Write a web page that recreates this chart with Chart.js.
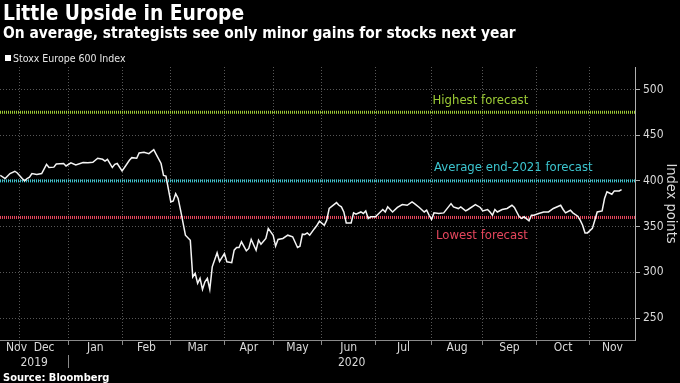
<!DOCTYPE html>
<html>
<head>
<meta charset="utf-8">
<script src="https://cdn.jsdelivr.net/npm/chart.js@4.4.1/dist/chart.umd.min.js"></script>
<style>
  html, body { margin: 0; padding: 0; background: #000; }
  body { width: 680px; height: 383px; position: relative; overflow: hidden;
         font-family: "DejaVu Sans Condensed", "DejaVu Sans", sans-serif; color: #fff; }
  canvas { position: absolute; left: 0; top: 0; }
  .txt { position: absolute; white-space: nowrap; line-height: 1; }
  #title { left: 3px; top: 3px; font-size: 20.8px; font-weight: bold; }
  #subtitle { left: 3px; top: 26px; font-size: 15.4px; font-weight: bold; }
  #legendBox { position: absolute; left: 5px; top: 55px; width: 6px; height: 6px; background: #fff; }
  #legend { left: 13px; top: 53px; font-size: 10.5px; color: #e6e6e6; }
  #source { left: 3px; top: 372px; font-size: 11px; font-weight: bold; }
</style>
</head>
<body>
<canvas id="chart" width="680" height="383"></canvas>
<div id="title" class="txt">Little Upside in Europe</div>
<div id="subtitle" class="txt">On average, strategists see only minor gains for stocks next year</div>
<div id="legendBox"></div>
<div id="legend" class="txt"></div>
<div id="source" class="txt">Source: Bloomberg</div>

<script>
// ---- data (x = trading day, 0 = first session of 2020) ----
const seriesName = 'Stoxx Europe 600 Index';
const days = [
  -28, -26, -24, -22, -21, -19, -18, -17, -16, -15, -13, -11, -9, -8, -6, -5, -2, -1,
  1, 3, 6, 8, 10, 12, 14, 15, 16, 18, 19, 20, 22, 23, 25, 26, 28, 29, 31, 33, 35, 36, 38, 39, 40,
  42, 43, 44, 45, 46, 48, 50, 51, 52, 53, 54, 55, 56, 57, 58, 59, 61, 62,
  64, 65, 67, 68, 69, 70, 71, 73, 74, 75, 77, 78, 79, 81, 82,
  84, 85, 86, 88, 90, 92, 94, 95, 96, 97, 98, 99, 101, 102, 103,
  105, 106, 107, 110, 111, 112, 113, 114, 116, 117, 118, 120, 121, 122, 123, 124,
  126, 129, 130, 131, 133, 135, 137, 139, 141, 142, 144, 146, 147, 148,
  149, 150, 152, 154, 157, 158, 160, 161, 163, 164, 167, 169,
  170, 172, 173, 174, 175, 176, 178, 180, 182, 183, 185, 186, 187, 189, 190, 191,
  193, 195, 197, 199, 202, 203, 204, 206, 207, 209, 210, 211, 212, 213,
  215, 216, 217, 219, 220, 221, 223, 224, 226, 227
];
const stoxx = [
  406.1, 402.5, 408, 410.5, 408.6, 402.5, 400, 402.5, 404, 408, 407, 408, 418, 414.6, 415, 418.5, 419, 416.3,
  419.7, 417.5, 420, 419.7, 420.3, 424.7, 423.6, 421.7, 423.6, 414.6, 418, 419, 410.8, 414.6, 422.5, 425.4, 424.7, 430.5, 431.2, 429.8, 434, 429, 419, 406, 405.3,
  377, 378, 386, 380.8, 368, 340.6, 335, 295, 299, 288, 293.4, 281.3, 289.7, 293.4, 281.3, 306, 321.3, 312,
  320.6, 311.5, 310.5, 324.2, 327.2, 327.2, 333.4, 323.6, 326.1, 336, 324.2, 335.2, 330.8, 337, 348,
  340.6, 328.6, 336, 337, 340.6, 338.9, 327.2, 328.6, 341.7, 341.4, 343.1, 340.6, 348, 351.5, 356,
  351.5, 357, 370, 376.2, 373.3, 371.6, 366, 354, 354, 365, 363.5, 366, 364.4, 367.2, 358.9, 360.7,
  360.7, 368.7, 366, 371.6, 366, 370.9, 374.1, 373.3, 377, 375.1, 370.9, 366, 367.9, 362.4,
  357.7, 365, 364.4, 365, 375.1, 371.6, 369.7, 371.6, 367.2, 368.7, 374.1, 370.9,
  367.2, 368.7, 366, 362.4, 368.7, 366, 368.7, 369.8, 373.3, 370.9, 360.7, 358.9, 360.7, 356.3, 362.4, 362.4,
  364.4, 366, 366, 369.8, 373.3, 368.7, 365, 367.9, 365, 361.4, 357, 351.5, 343.1, 343.1,
  348, 357, 366, 367.2, 380.7, 388, 385.4, 389, 389, 390.5
];

const forecastNames = ['Highest forecast', 'Average end-2021 forecast', 'Lowest forecast'];
const forecastValues = [475, 400, 360];

// month boundaries in trading days (Nov 2019 .. Dec 2020)
const monthNames = ['Nov', 'Dec', 'Jan', 'Feb', 'Mar', 'Apr', 'May', 'Jun', 'Jul', 'Aug', 'Sep', 'Oct', 'Nov'];
const monthStarts = [-41, -20, 0, 22, 42, 64, 84, 104, 126, 149, 170, 192, 214, 235];
const yearNames = ['2019', '2020'];
const yearBreak = 0;
const yTicks = [250, 300, 350, 400, 450, 500];

// ---- styling ----
const FONT = '"DejaVu Sans Condensed", "DejaVu Sans", sans-serif';
const forecastColors = ['#9dcc36', '#3cc5cf', '#e5465d'];
const labelNudge = [{dx: 1, dy: -12}, {dx: 2.5, dy: -13}, {dx: 4.5, dy: 18}];
const xMin = -28.1, xMax = 232.5;

document.getElementById('legend').textContent = seriesName;

const extraLabels = {
  id: 'extraLabels',
  afterDatasetsDraw(chart) {
    const {ctx, scales: {x, y}} = chart;
    ctx.save();
    ctx.font = '13px ' + FONT;
    ctx.textAlign = 'left';
    ctx.textBaseline = 'middle';
    const at = x.getPixelForValue(monthStarts[9]);
    forecastValues.forEach((v, i) => {
      ctx.fillStyle = forecastColors[i];
      ctx.fillText(forecastNames[i], at + labelNudge[i].dx, y.getPixelForValue(v) + labelNudge[i].dy);
    });
    ctx.restore();
  },
  afterDraw(chart) {
    const {ctx, chartArea: a, scales: {x}} = chart;
    ctx.save();
    ctx.font = '12px ' + FONT;
    ctx.fillStyle = '#dadada';
    ctx.textAlign = 'center';
    ctx.textBaseline = 'middle';
    for (let i = 0; i < monthNames.length; i++) {
      const from = Math.max(monthStarts[i], x.min), to = Math.min(monthStarts[i + 1], x.max);
      if (to <= from) continue;
      const w = ctx.measureText(monthNames[i]).width;
      let cx = (x.getPixelForValue(from) + x.getPixelForValue(to)) / 2;
      cx = Math.min(Math.max(cx, a.left + 6 + w / 2), a.right - 2 - w / 2);
      ctx.fillText(monthNames[i], cx, x.top + 8);
    }
    // years, centred on their visible span
    const yb = x.getPixelForValue(yearBreak);
    ctx.fillText(yearNames[0], (a.left + yb) / 2, x.top + 22.5);
    ctx.fillText(yearNames[1], (yb + a.right) / 2, x.top + 22.5);
    ctx.strokeStyle = '#8a8a8a';
    ctx.lineWidth = 1;
    ctx.beginPath();
    ctx.moveTo(Math.round(yb) + 0.5, x.top + 15);
    ctx.lineTo(Math.round(yb) + 0.5, x.top + 28);
    ctx.stroke();
    ctx.restore();
  }
};

const flat = v => [{x: xMin, y: v}, {x: xMax, y: v}];

new Chart(document.getElementById('chart'), {
  type: 'line',
  data: {
    datasets: [
      { label: seriesName, data: days.map((d, i) => ({x: d, y: stoxx[i]})),
        borderColor: '#f4f4f4', borderWidth: 1.5 },
      ...forecastValues.map((v, i) => ({
        label: forecastNames[i], data: flat(v),
        borderColor: forecastColors[i], borderWidth: 3, borderDash: [1, 1]
      }))
    ]
  },
  options: {
    responsive: false,
    animation: false,
    devicePixelRatio: 1,
    layout: { padding: { top: 67, left: 0, right: 0, bottom: 0 } },
    elements: { point: { radius: 0 }, line: { tension: 0 } },
    plugins: { legend: { display: false }, tooltip: { enabled: false } },
    scales: {
      x: {
        type: 'linear', min: xMin, max: xMax,
        afterBuildTicks: s => { s.ticks = monthStarts.filter(v => v > xMin && v < xMax).map(v => ({value: v})); },
        afterFit: s => { s.height = 43; },
        ticks: { display: false },
        grid: { color: '#575757', tickLength: 5, tickColor: '#8a8a8a', tickBorderDash: [] },
        border: { display: true, color: '#8a8a8a', dash: [1, 2] }
      },
      y: {
        type: 'linear', position: 'right', min: 226, max: 524.5,
        afterBuildTicks: s => { s.ticks = yTicks.map(v => ({value: v})); },
        afterFit: s => { s.width = 45; },
        ticks: { color: '#dadada', padding: 3, font: { family: FONT, size: 12 } },
        grid: { color: '#575757', tickLength: 5, tickColor: '#b0b0b0', tickBorderDash: [] },
        border: { display: true, color: '#b0b0b0', dash: [1, 2] },
        title: { display: true, text: 'Index points', color: '#dadada',
                 font: { family: FONT, size: 14.5 }, padding: { top: 1, bottom: 0 } }
      }
    }
  },
  plugins: [extraLabels]
});
</script>
</body>
</html>
